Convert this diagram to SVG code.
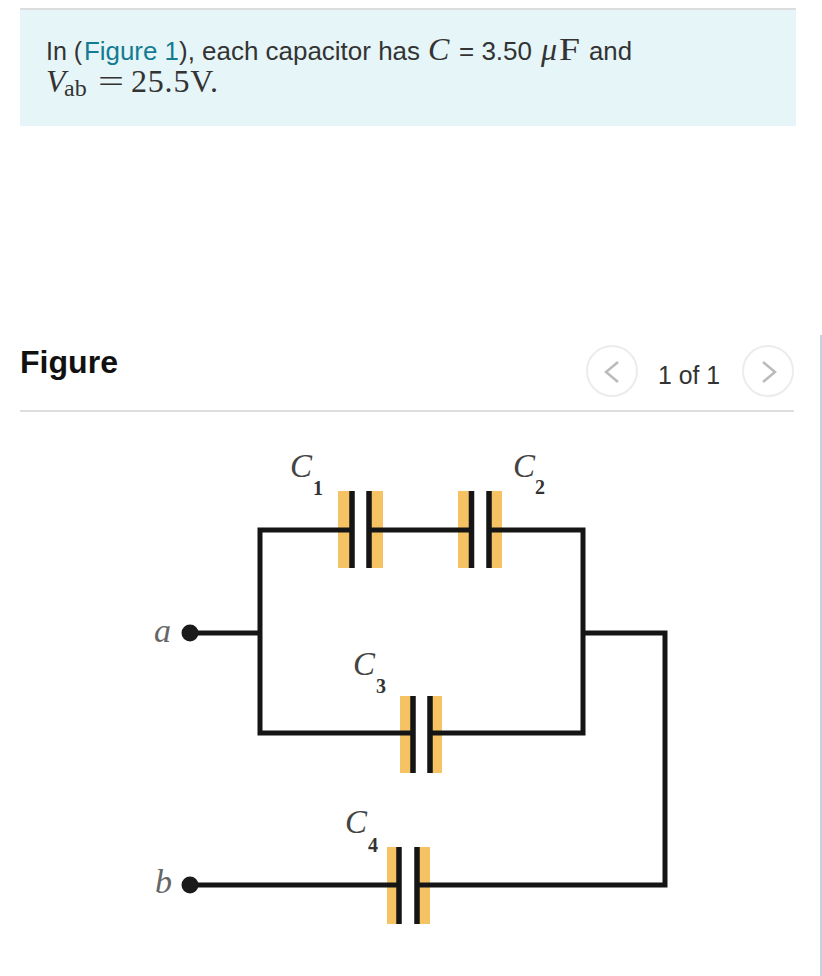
<svg xmlns="http://www.w3.org/2000/svg" width="822" height="976" viewBox="0 0 822 976">
<style>
.sans{font-family:"Liberation Sans",Arial,sans-serif;font-size:25px;fill:#333}
.math{font-family:"Liberation Serif","Times New Roman",serif;font-size:32px;fill:#333}
.mi{font-style:italic}
.lab{font-family:"Liberation Serif","Times New Roman",serif;font-style:italic;font-size:33px;fill:#444}
.term{font-family:"Liberation Serif","Times New Roman",serif;font-style:italic;font-size:34px;fill:#666}
.sub{font-family:"Liberation Serif","Times New Roman",serif;font-size:20px;font-weight:bold;fill:#333}
.wire{fill:none;stroke:#151515;stroke-width:5;stroke-linejoin:miter}
.plate{stroke:#151515;stroke-width:5.5}
.die{fill:#f5c264}
.nav{fill:#fff;stroke:#ececec;stroke-width:2}
.chev{fill:none;stroke:#bbb;stroke-width:2.5}
</style>
<rect width="822" height="976" fill="#fff"/>
<g id="prompt">
<rect x="20" y="9" width="776" height="117" fill="#e6f5f7"/>
<rect x="20" y="8" width="776" height="2" fill="#dcdcdc"/>
<text class="sans" x="46" y="60">In (</text>
<text class="sans" x="84" y="60" textLength="95" lengthAdjust="spacingAndGlyphs" style="fill:#137c93">Figure 1</text>
<text class="sans" x="179" y="60" textLength="241" lengthAdjust="spacingAndGlyphs">), each capacitor has</text>
<text class="math mi" x="428" y="60">C</text>
<text class="sans" x="459" y="60" textLength="73" lengthAdjust="spacingAndGlyphs">= 3.50</text>
<text class="math mi" x="541" y="60">μ</text>
<text class="math" x="559" y="60" textLength="21" lengthAdjust="spacingAndGlyphs">F</text>
<text class="sans" x="589" y="60" textLength="43" lengthAdjust="spacingAndGlyphs">and</text>
<text class="math mi" x="46" y="92">V</text>
<text class="math" x="64" y="96" style="font-size:24px">ab</text>
<text class="math" x="98" y="92" textLength="26" lengthAdjust="spacingAndGlyphs">=</text>
<text class="math" x="131" y="92" textLength="87">25.5V.</text>
</g>
<g id="figure-header">
<text x="20" y="373" font-family="'Liberation Sans',Arial,sans-serif" font-size="31" font-weight="bold" fill="#111" textLength="98" lengthAdjust="spacingAndGlyphs">Figure</text>
<circle class="nav" cx="612" cy="371" r="25"/>
<path class="chev" d="M618 362L606 372L618 382"/>
<text class="sans" x="658" y="384" textLength="62" lengthAdjust="spacingAndGlyphs">1 of 1</text>
<circle class="nav" cx="768" cy="371" r="25"/>
<path class="chev" d="M763 362L775 372L763 382"/>
<rect x="20" y="410" width="774" height="2" fill="#dedede"/>
<rect x="820" y="335" width="2" height="641" fill="#c5d3e0"/>
</g>
<g id="C1">
<path class="die" d="M338 491H352V568H338ZM369 491H383V568H369Z"/>
<path class="plate" d="M352 491V568M369 491V568"/>
<text class="lab" x="290" y="477">C</text><text class="sub" x="313" y="495">1</text>
</g>
<g id="C2">
<path class="die" d="M458 491H471.500V568H458ZM489 491H502V568H489Z"/>
<path class="plate" d="M471.500 491V568M489 491V568"/>
<text class="lab" x="513" y="477">C</text><text class="sub" x="535" y="494">2</text>
</g>
<g id="C3">
<path class="die" d="M400 696H413V773H400ZM430 696H442V773H430Z"/>
<path class="plate" d="M413 696V773M430 696V773"/>
<text class="lab" x="353" y="675">C</text><text class="sub" x="376" y="693">3</text>
</g>
<g id="C4">
<path class="die" d="M387 847H399V924H387ZM417 847H430V924H417Z"/>
<path class="plate" d="M399 847V924M417 847V924"/>
<text class="lab" x="345" y="833">C</text><text class="sub" x="368" y="852">4</text>
</g>
<g id="connectors">
<path class="wire" d="M352 530H260V733H413"/>
<path class="wire" d="M369 530H471"/>
<path class="wire" d="M489 530H583V733H430"/>
<path class="wire" d="M190 633H260"/>
<path class="wire" d="M583 633H665V885H417"/>
<path class="wire" d="M190 885H399"/>
</g>
<g id="terminal-a">
<circle cx="190" cy="633" r="8.500" fill="#1a1a1a"/>
<text class="term" x="154" y="642">a</text>
</g>
<g id="terminal-b">
<circle cx="190" cy="885" r="8.500" fill="#1a1a1a"/>
<text class="term" x="155" y="893">b</text>
</g>
</svg>
